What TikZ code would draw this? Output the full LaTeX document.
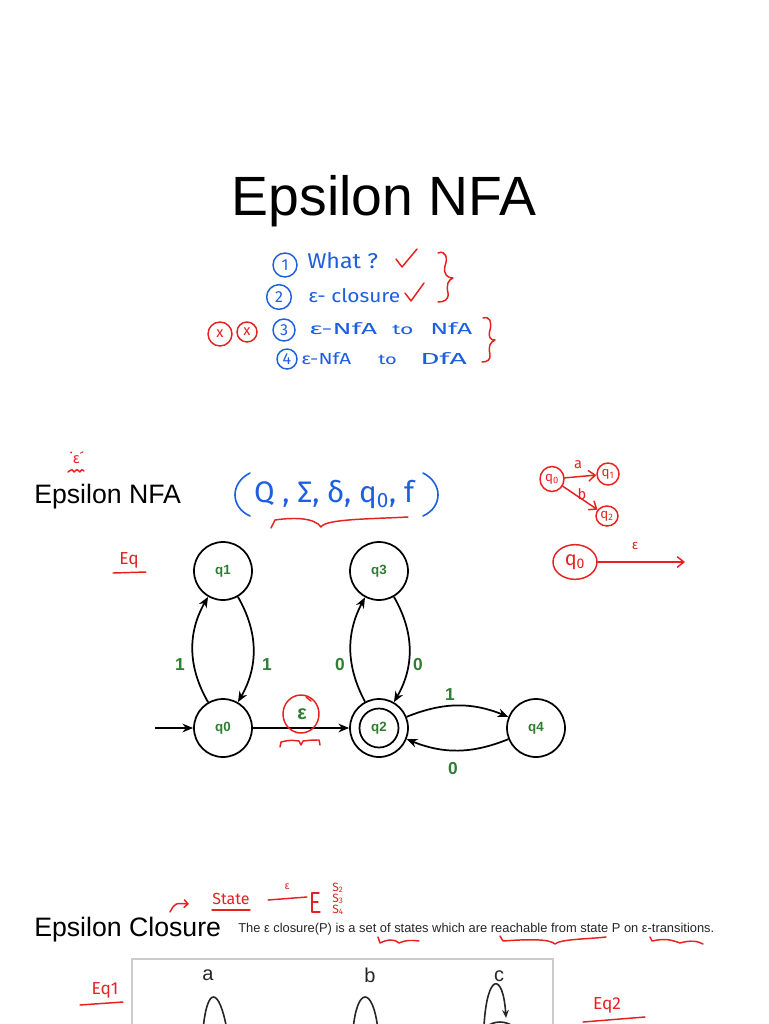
\documentclass[tikz,border=0pt]{standalone}
\usepackage{fontspec}
\setmainfont{Liberation Sans}
\newfontfamily\hand{Fira Sans}
\usetikzlibrary{arrows.meta,shapes.geometric}
\definecolor{gr}{RGB}{46,125,50}
\definecolor{hred}{RGB}{232,32,32}
\definecolor{hblue}{RGB}{30,95,225}
\begin{document}
\begin{tikzpicture}[x=0.75pt,y=0.75pt,
  txt/.style={inner sep=0pt},
  st/.style={circle,draw=black,line width=1.3pt,minimum size=43.5pt,inner sep=0pt,text=gr,font=\bfseries\fontsize{10}{10}\selectfont},
  arr/.style={line width=1.3pt,-{Stealth[length=8pt,width=6.5pt]}},
  lab/.style={inner sep=0pt,text=gr,font=\bfseries\fontsize{13}{13}\selectfont},
  rpen/.style={draw=hred,line width=1.1pt,line cap=round,line join=round},
  rarr/.style={rpen,-{Straight Barb[length=5pt,width=8pt]}},
  rtext/.style={inner sep=0pt,text=hred,font=\hand\fontsize{12}{12}\selectfont},
  rcirc/.style={ellipse,draw=hred,line width=1.1pt,inner sep=0pt,text=hred,font=\hand\fontsize{10}{10}\selectfont},
  bpen/.style={draw=hblue,line width=1.2pt,line cap=round},
  btext/.style={inner sep=0pt,anchor=base west,text=hblue,font=\hand\fontsize{15}{15}\selectfont},
  numc/.style={circle,draw=hblue,line width=1.1pt,inner sep=0pt,text=hblue,font=\hand\fontsize{12}{12}\selectfont},
  xcirc/.style={circle,draw=hred,line width=1.1pt,inner sep=0pt,text=hred,font=\hand\fontsize{11}{11}\selectfont}
]
\useasboundingbox (0,0) rectangle (768,-1024);
\fill[white] (0,0) rectangle (768,-1024);

% title
\node[txt,anchor=base,font=\fontsize{41.5}{41.5}\selectfont] (title) at (384,-215) {Epsilon NFA};

% blue list
\node[numc,minimum size=18pt] (n1) at (285,-265) {1};
\node[numc,minimum size=18.5pt] (n2) at (279,-297) {2};
\node[numc,minimum size=16.5pt] (n3) at (284,-330) {3};
\node[numc,minimum size=15pt] (n4) at (287,-359) {4};
\node[btext] (w1) at (307,-268) {\resizebox{53pt}{12pt}{What ?}};
\node[btext] (w2) at (308,-302) {\resizebox{69pt}{10.5pt}{ε- closure}};
\node[btext] (w3a) at (309,-334) {\resizebox{51pt}{9pt}{ε-NfA}};
\node[btext] (w3b) at (392,-334) {\resizebox{16pt}{7pt}{to}};
\node[btext] (w3c) at (430,-334) {\resizebox{31.5pt}{9pt}{NfA}};
\node[btext] (w4a) at (301,-364) {\resizebox{37.5pt}{9pt}{ε-NfA}};
\node[btext] (w4b) at (378,-364) {\resizebox{14pt}{7pt}{to}};
\node[btext] (w4c) at (420,-364) {\resizebox{35pt}{9pt}{DfA}};

% red checks, braces, crosses
\draw[rpen] (396,-259) -- (402,-267) -- (417,-249);
\draw[rpen] (405,-293) -- (411,-301) -- (424,-283);
\draw[rpen] (438,-253) .. controls (446,-250) and (448,-258) .. (445,-266) .. controls (443,-275) and (448,-278) .. (453,-278) .. controls (448,-280) and (446,-285) .. (448,-293) .. controls (449,-300) and (444,-302) .. (438,-302);
\draw[rpen] (483,-318) .. controls (490,-316) and (492,-322) .. (490,-330) .. controls (488,-337) and (490,-340) .. (495,-340) .. controls (490,-342) and (488,-347) .. (490,-354) .. controls (491,-360) and (487,-362) .. (482,-362);
\node[xcirc,minimum size=18pt] (x1) at (220,-334) {x};
\node[xcirc,minimum size=15pt] (x2) at (247,-332) {x};

% Epsilon NFA heading
\node[txt,anchor=base west,font=\fontsize{20}{20}\selectfont] (enfa) at (34,-503) {Epsilon NFA};
\node[rtext,font=\hand\fontsize{11}{11}\selectfont] (epsq) at (77,-458) {˙ε´};
\draw[rpen] (68,-472) .. controls (72,-469) .. (74,-472) .. controls (77,-469) .. (80,-472) .. controls (82,-469) .. (84,-471);

% tuple
\draw[bpen] (250,-473) .. controls (230,-483) and (230,-507) .. (250,-516);
\draw[bpen] (423,-473) .. controls (443,-483) and (443,-507) .. (423,-516);
\node[txt,text=hblue,font=\hand\fontsize{22}{22}\selectfont] (tuple) at (334,-495) {\resizebox{120pt}{!}{Q , Σ, δ, q\textsubscript{0}, f}};
\draw[rpen] (271,-528) -- (275,-520) .. controls (295,-517) and (315,-518) .. (321,-527) .. controls (325,-519) and (370,-519) .. (408,-517);

% Eq label
\node[rtext,font=\hand\fontsize{13}{13}\selectfont] (eq) at (129,-560) {Eq};
\draw[rpen] (113,-573) -- (146,-572);

% automaton
\node[st] (q1) at (223,-571) {q1};
\node[st] (q0) at (223,-728) {q0};
\node[st] (q3) at (379,-571) {q3};
\node[st] (q2) at (379,-728) {q2};
\node[st] (q4) at (536,-728) {q4};
\draw[line width=1.3pt] (q2.center) circle (19.5);
\coordinate (start) at (155,-728);
\draw[arr] (start) -- (q0);
\draw[arr] (q0) to[bend left=30] (q1);
\draw[arr] (q1) to[bend left=30] (q0);
\draw[arr] (q2) to[bend left=28] (q3);
\draw[arr] (q3) to[bend left=30] (q2);
\draw[arr] (q0) -- (q2);
\draw[arr] (q2) to[bend left=22] (q4);
\draw[arr] (q4) to[bend left=22] (q2);
\node[lab] (l1) at (180,-665) {1};
\node[lab] (l2) at (267,-665) {1};
\node[lab] (l3) at (340,-665) {0};
\node[lab] (l4) at (418,-665) {0};
\node[lab] (l5) at (450,-695) {1};
\node[lab] (l6) at (453,-769) {0};
\node[lab,font=\bfseries\fontsize{15}{15}\selectfont] (leps) at (302,-714) {ε};
\draw[rpen] (301,-714) ellipse (18 and 19);
\draw[rpen] (306,-697) -- (311,-701);
\draw[rpen] (280,-747) -- (281,-742) .. controls (290,-740) .. (299,-741) -- (301,-745) -- (303,-741) .. controls (312,-740) .. (319,-740) -- (320,-745);

% red small automaton
\node[rcirc,minimum width=18pt,minimum height=18.75pt] (r0) at (552,-479) {q\textsubscript{0}};
\node[rcirc,minimum width=16.5pt,minimum height=16.5pt] (r1) at (608,-474) {q\textsubscript{1}};
\node[rcirc,minimum width=16.5pt,minimum height=15pt] (r2) at (607,-516) {q\textsubscript{2}};
\draw[rarr] (r0) -- (r1);
\draw[rarr] (r0) -- (r2);
\node[rtext,font=\hand\fontsize{11}{11}\selectfont] (ra) at (578,-465) {a};
\node[rtext,font=\hand\fontsize{11}{11}\selectfont] (rb) at (582,-494) {b};
\node[rcirc,minimum width=33pt,minimum height=26pt,font=\hand\fontsize{15}{15}\selectfont] (rq) at (575,-562) {q\textsubscript{0}};
\coordinate (rend) at (685,-562);
\draw[rarr] (rq) -- (rend);
\node[rtext,font=\hand\fontsize{10}{10}\selectfont] (re) at (635,-546) {ε};

% Epsilon closure
\node[txt,anchor=base west,font=\fontsize{20}{20}\selectfont] (eclo) at (34,-936) {Epsilon Closure};
\node[txt,anchor=base west,text=black!85] (desc) at (238,-932) {\resizebox{357pt}{!}{The ε closure(P) is a set of states which are reachable from state P on ε-transitions.}};
\draw[rpen] (378,-937) -- (380,-943) .. controls (388,-939) and (395,-939) .. (399,-943) .. controls (405,-940) and (412,-940) .. (419,-941);
\draw[rpen] (500,-936) -- (503,-941) .. controls (530,-939) and (550,-939) .. (555,-944) .. controls (560,-939) and (590,-939) .. (606,-937);
\draw[rpen] (650,-937) -- (652,-941) .. controls (665,-938) and (672,-940) .. (680,-943) .. controls (690,-940) and (698,-941) .. (703,-944);

% State annotation
\coordinate (sa0) at (170,-912);
\coordinate (sa1) at (189,-904);
\draw[rpen,-{Straight Barb[length=3pt,width=6pt]}] (sa0) .. controls (175,-903) .. (sa1);
\node[rtext] (state) at (231,-899) {State};
\draw[rpen] (212,-910) -- (250,-910);
\node[rtext,font=\hand\fontsize{8}{8}\selectfont] (se) at (287,-887) {ε};
\draw[rpen] (268,-900) -- (307,-897);
\draw[rpen] (319,-893) -- (312,-893) -- (312,-912) -- (320,-912);
\draw[rpen] (312,-902) -- (318,-902);
\node[rtext,font=\hand\fontsize{9}{9}\selectfont] (s2) at (338,-888) {S\textsubscript{2}};
\node[rtext,font=\hand\fontsize{9}{9}\selectfont] (s3) at (338,-899) {S\textsubscript{3}};
\node[rtext,font=\hand\fontsize{9}{9}\selectfont] (s4) at (338,-910) {S\textsubscript{4}};

% Eq1, Eq2
\node[rtext,font=\hand\fontsize{13}{13}\selectfont] (eq1) at (105,-990) {Eq1};
\draw[rpen] (80,-1005) -- (123,-1002);
\node[rtext,font=\hand\fontsize{13}{13}\selectfont] (eq2) at (607,-1005) {Eq2};
\draw[rpen] (583,-1022) -- (645,-1017);

% bottom figure
\begin{scope}
\clip (0,0) rectangle (768,-1024);
\draw[black!20,line width=0.8pt] (132,-959) rectangle (553,-1040);
\node[txt,font=\fontsize{15}{15}\selectfont,text=black!85] (la) at (208,-975) {a};
\node[txt,font=\fontsize{15}{15}\selectfont,text=black!85] (lb) at (370,-975) {b};
\node[txt,font=\fontsize{15}{15}\selectfont,text=black!85] (lc) at (499,-976) {c};
\draw[line width=1.2pt,black!85] (203,-1030) .. controls (207,-986) and (219,-986) .. (227,-1030);
\draw[line width=1.2pt,black!85] (353,-1030) .. controls (357,-986) and (373,-986) .. (378,-1030);
\draw[line width=1.2pt,black!85,-{Stealth[length=6pt,width=5pt]}] (484,-1026) .. controls (487,-972) and (503,-972) .. (506,-1018);
\draw[line width=1.2pt,black!85] (500,-1040) ellipse (20 and 18);
\end{scope}
\end{tikzpicture}
\end{document}
